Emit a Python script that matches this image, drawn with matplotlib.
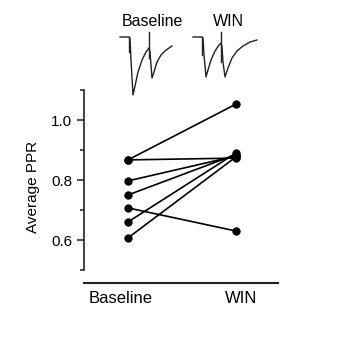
import numpy as np
import matplotlib
matplotlib.use("Agg")
import matplotlib.pyplot as plt
from matplotlib.ticker import FixedLocator

plt.rcParams['font.family'] = ['Liberation Sans', 'DejaVu Sans']

# paired PPR values, one pair per cell
conditions = ['Baseline', 'WIN']
ppr_baseline = [0.867, 0.867, 0.797, 0.750, 0.707, 0.660, 0.607]
ppr_win = [1.053, 0.873, 0.880, 0.885, 0.630, 0.890, 0.877]

major_ticks = [0.6, 0.8, 1.0]
minor_ticks = [0.5, 0.7, 0.9, 1.1]

# example traces (sketch, figure pixel coords)
trace_base_x = [120, 129, 130, 131, 133, 135, 138, 142, 146, 149, 150, 152, 154, 157, 161, 165, 169, 172]
trace_base_y = [37, 37, 38, 60, 95, 86, 72, 60, 52, 48, 52, 78, 72, 62, 55, 51, 48, 46]
art_base_x = [129, 149]
art_base_y = [(37, 52), (32, 58)]

trace_win_x = [193, 202, 203, 204, 206, 208, 211, 215, 219, 221, 222, 223, 225, 228, 232, 237, 243, 250, 257]
trace_win_y = [37, 37, 38, 55, 77, 70, 60, 51, 45, 43, 47, 62, 77, 68, 58, 51, 46, 42, 40]
art_win_x = [202, 221]
art_win_y = [(37, 55), (32, 62)]

W, H = 352, 359
fig = plt.figure(figsize=(W / 100, H / 100), dpi=100)

# main axes
ax = fig.add_axes([84 / W, (H - 283) / H, 194 / W, (283 - 90) / H])
x = np.arange(len(conditions))
for b, w in zip(ppr_baseline, ppr_win):
    ax.plot(x, [b, w], color='black', lw=1.2, marker='o', ms=5, mfc='black', mec='black', zorder=3)

ax.set_xlim(-0.407, 1.389)
ax.set_ylim(0.4567, 1.1)
ax.yaxis.set_major_locator(FixedLocator(major_ticks))
ax.yaxis.set_minor_locator(FixedLocator(minor_ticks))
ax.set_yticklabels([f'{v:.1f}' for v in major_ticks])
ax.tick_params(axis='y', which='major', length=5, width=1.1, labelsize=11, pad=3.5, color='#222222')
ax.tick_params(axis='y', which='minor', length=3, width=1.1, color='#222222')
ax.set_xticks([-0.07, 1.045], conditions)
ax.tick_params(axis='x', length=0, labelsize=12, pad=6)
ax.set_ylabel('Average PPR', fontsize=11, labelpad=8)

for s in ['top', 'right']:
    ax.spines[s].set_visible(False)
ax.spines['left'].set_bounds(0.5, 1.1)
ax.spines['left'].set_linewidth(1.2)
ax.spines['left'].set_color('#222222')
ax.spines['bottom'].set_linewidth(1.5)
ax.spines['bottom'].set_color('#222222')

# overlay for traces and their labels
ov = fig.add_axes([0, 0, 1, 1], facecolor='none')
ov.set_xlim(0, W)
ov.set_ylim(H, 0)
ov.axis('off')
ov.plot(trace_base_x, trace_base_y, color='#222222', lw=1.0)
ov.plot(trace_win_x, trace_win_y, color='#222222', lw=1.0)
for xa, (y0, y1) in zip(art_base_x + art_win_x, art_base_y + art_win_y):
    ov.plot([xa, xa], [y0, y1], color='#222222', lw=1.0)
ov.text(152, 22, 'Baseline', ha='center', va='center', fontsize=11.5)
ov.text(228, 22, 'WIN', ha='center', va='center', fontsize=11.5)

fig.savefig('out.png', dpi=100)
